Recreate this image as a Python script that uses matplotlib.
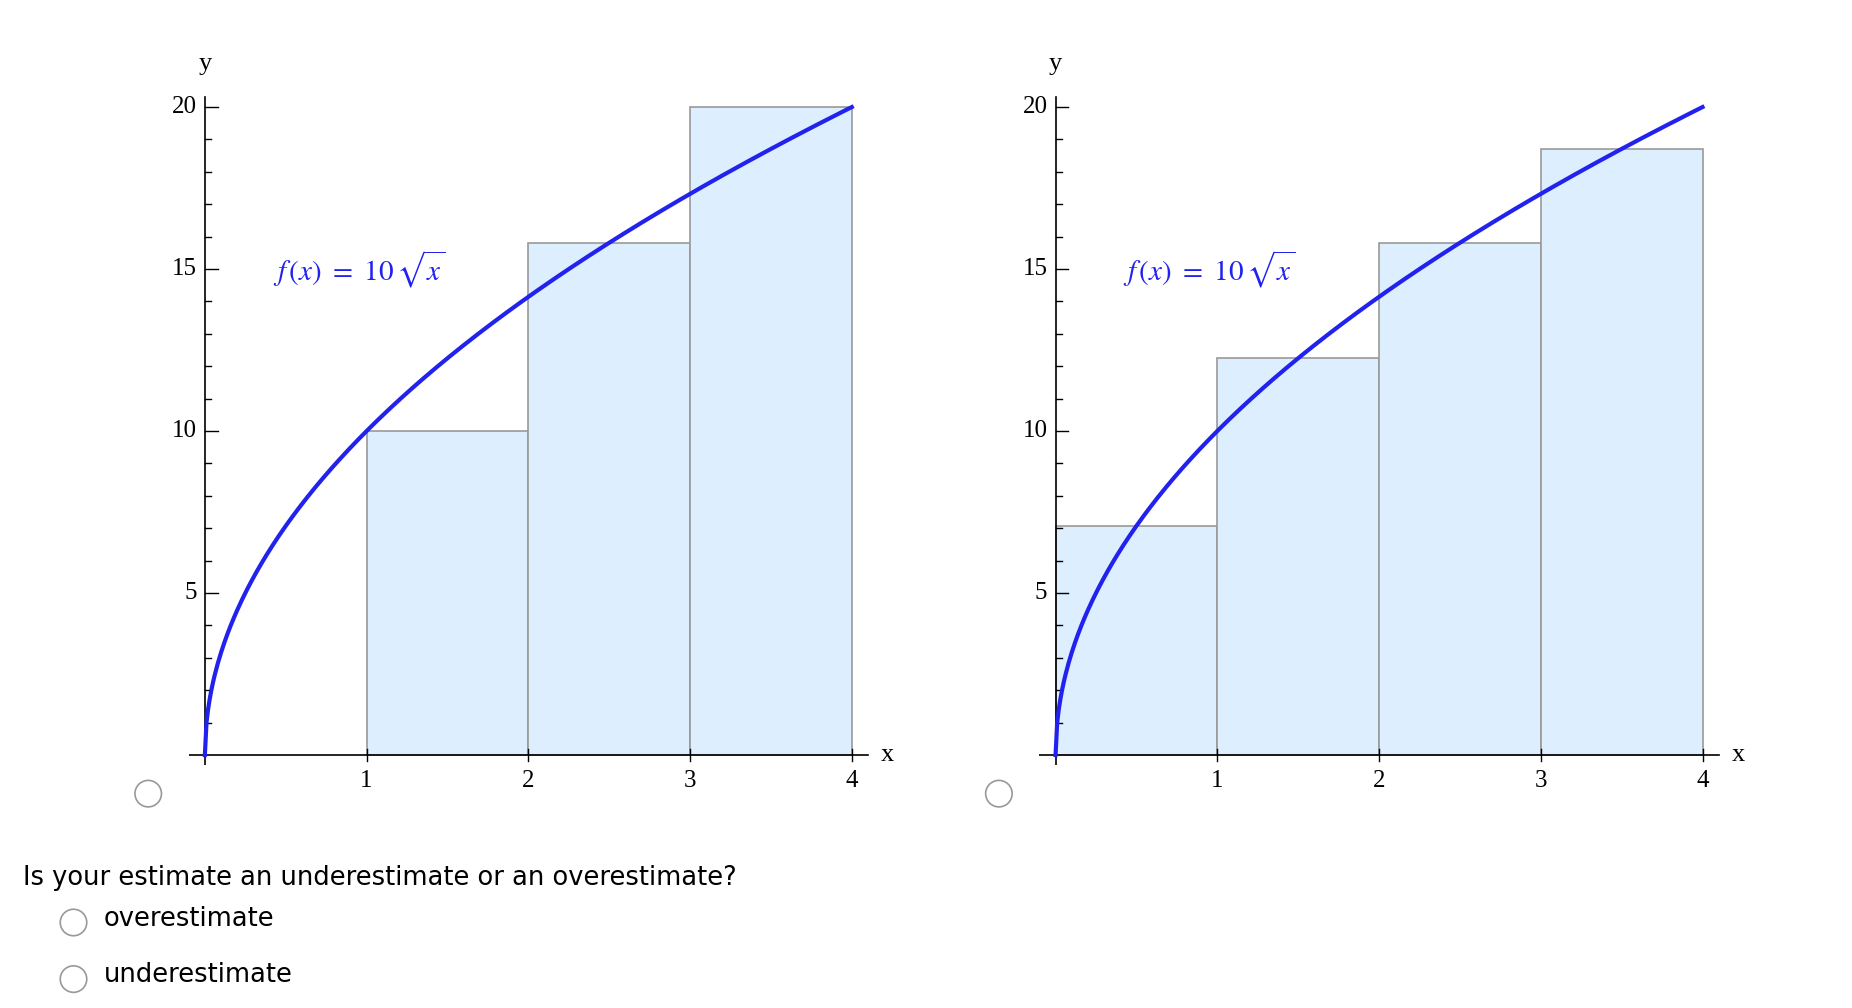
import numpy as np
import matplotlib.pyplot as plt
from matplotlib.patches import Circle

left_edges = [1, 2, 3]
left_heights = [10, 15.8, 20]
right_edges = [0, 1, 2, 3]
right_heights = [7.07, 12.25, 15.8, 18.7]
xticks = [1, 2, 3, 4]
yticks = [5, 10, 15, 20]

W, H = 1537, 837
fig = plt.figure(figsize=(18.52, 10.08), dpi=100)

def make_ax(left_px, edges, heights):
    ax = fig.add_axes([left_px / W, (H - 635) / H, 590.6 / W, 573 / H])
    ax.set_xlim(-0.1, 4.3)
    ax.set_ylim(-0.3, 21)
    ax.axis('off')
    ax.bar(edges, heights, width=1, align='edge', color='#ddeeff',
           edgecolor='#999999', linewidth=1.2, zorder=1)
    ax.plot([-0.1, 4.1], [0, 0], color='k', lw=1.2, zorder=3)
    ax.plot([0, 0], [-0.3, 20.3], color='k', lw=1.2, zorder=3)
    for t in range(1, 21):
        L = 0.08 if t % 5 == 0 else 0.04
        ax.plot([0, L], [t, t], color='k', lw=1, zorder=3)
    for t in yticks:
        ax.text(-0.05, t, str(t), ha='right', va='center', family='Liberation Serif', fontsize=18)
    for t in xticks:
        ax.plot([t, t], [-0.2, 0.2], color='k', lw=1, zorder=3)
        ax.text(t, -0.45, str(t), ha='center', va='top', family='Liberation Serif', fontsize=18)
    ax.text(4.22, 0, 'x', ha='center', va='center', family='Liberation Serif', fontsize=19)
    ax.text(0, 21.0, 'y', ha='center', va='bottom', family='Liberation Serif', fontsize=19, clip_on=False)
    xs = np.linspace(0, 4, 400)
    ax.plot(xs, 10 * np.sqrt(xs), color='#2222ee', lw=3, zorder=4)
    ax.text(0.42, 15, r'$f\,(x)\ =\ 10\,\sqrt{x}$', color='#2222ee', fontsize=21,
            va='center', math_fontfamily='stix')
    return ax

make_ax(156.6, left_edges, left_heights)
make_ax(862.6, right_edges, right_heights)

for (cx, cy) in [(123, 659), (829, 659), (61, 766), (61, 813)]:
    c = Circle((cx / W * 18.52, (1 - cy / H) * 10.08), 11 / H * 10.08,
               transform=fig.dpi_scale_trans, facecolor='white', edgecolor='#999999', lw=1.2)
    fig.patches.append(c)

fig.text(19 / W, 1 - 729 / H, 'Is your estimate an underestimate or an overestimate?',
         fontsize=18.5, va='center', family='DejaVu Sans')
fig.text(86 / W, 1 - 763 / H, 'overestimate', fontsize=18.5, va='center', family='DejaVu Sans')
fig.text(86 / W, 1 - 810 / H, 'underestimate', fontsize=18.5, va='center', family='DejaVu Sans')

fig.savefig('out.png', dpi=100)
